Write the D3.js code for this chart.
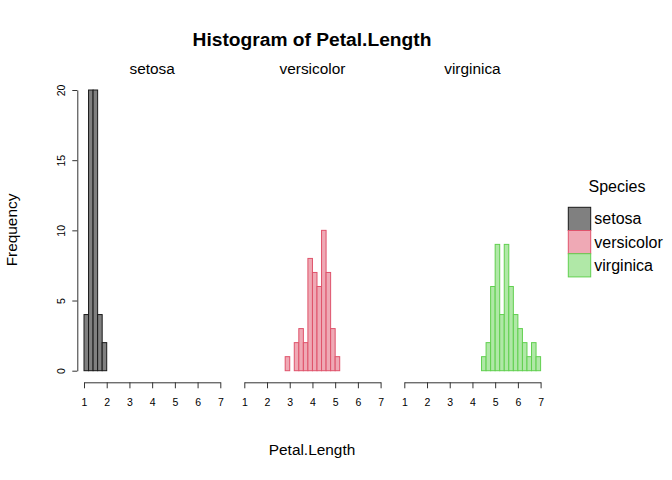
<!DOCTYPE html>
<html><head><meta charset="utf-8">
<script src="https://cdn.jsdelivr.net/npm/d3@7"></script>
<style>body{margin:0;background:#fff}svg{display:block}text{font-family:"Liberation Sans",Arial,sans-serif;fill:#000}</style>
</head><body><svg id="c" width="672" height="480"></svg>
<script>
const species = ["setosa","versicolor","virginica"];
const setosaEdges = [1.0,1.2,1.4,1.6,1.8];
const setosaCounts = [4,20,20,4,2];
const versicolorEdges = [2.8,3.0,3.2,3.4,3.6,3.8,4.0,4.2,4.4,4.6,4.8,5.0];
const versicolorCounts = [1,0,2,3,2,8,7,6,10,7,3,1];
const virginicaEdges = [4.4,4.6,4.8,5.0,5.2,5.4,5.6,5.8,6.0,6.2,6.4,6.6,6.8];
const virginicaCounts = [1,2,6,9,4,9,6,4,3,2,1,2,1];
const binWidth = 0.2;
const xTicks = [1,2,3,4,5,6,7];
const yTicks = [0,5,10,15,20];
const fills = ["#808080","#EFA9B5","#B0E8A7"];
const strokes = ["#1a1a1a","#DF536B","#61D04F"];

const series = [
  {edges: setosaEdges, counts: setosaCounts},
  {edges: versicolorEdges, counts: versicolorCounts},
  {edges: virginicaEdges, counts: virginicaCounts}
];

const svg = d3.select("#c");
const panelX0 = [84, 244.3, 404.3];
const panelW = 136.3;
const y = d3.scaleLinear().domain([0,20]).range([370.7, 90]);
const axisY = 382.3;

svg.append("text").attr("x",312).attr("y",46).attr("text-anchor","middle")
  .style("font-size","19.2px").style("font-weight","bold").text("Histogram of Petal.Length");

series.forEach((s,i)=>{
  const x = d3.scaleLinear().domain([1,7]).range([panelX0[i], panelX0[i]+panelW]);
  const g = svg.append("g");
  g.append("text").attr("x",(x(1)+x(7))/2).attr("y",74.3).attr("text-anchor","middle")
    .style("font-size","15.4px").text(species[i]);
  const data = s.edges.map((e,j)=>({x0:e, c:s.counts[j]})).filter(d=>d.c>0);
  g.selectAll("rect").data(data).enter().append("rect")
    .attr("x",d=>x(d.x0)).attr("width",d=>x(d.x0+binWidth)-x(d.x0))
    .attr("y",d=>y(d.c)).attr("height",d=>y(0)-y(d.c))
    .attr("fill",fills[i]).attr("stroke",strokes[i]).attr("stroke-width",1);
  const ax = g.append("g").attr("transform",`translate(0,${axisY})`)
    .call(d3.axisBottom(x).tickValues(xTicks).tickSize(6).tickSizeOuter(0).tickPadding(10).tickFormat(d3.format("d")));
  ax.select(".domain").attr("stroke","#333");
  ax.selectAll(".tick line").attr("stroke","#333");
  ax.selectAll(".tick text").style("font-size","10.5px").style("font-family","Liberation Sans, Arial, sans-serif").attr("fill","#000");
});

// y axis
const yax = svg.append("g").attr("transform","translate(77.3,0)")
  .call(d3.axisLeft(y).tickValues(yTicks).tickSize(5).tickSizeOuter(0).tickFormat(d3.format("d")));
yax.select(".domain").attr("stroke","#333");
yax.selectAll(".tick line").attr("stroke","#333");
yax.selectAll(".tick text").attr("x",null).attr("dy",null).attr("text-anchor","middle")
  .attr("transform","translate(-12,0) rotate(-90)")
  .style("font-size","10.5px").style("font-family","Liberation Sans, Arial, sans-serif").attr("fill","#000");

svg.append("text").attr("transform","translate(16.5,230) rotate(-90)").attr("text-anchor","middle")
  .style("font-size","15.4px").text("Frequency");
svg.append("text").attr("x",312).attr("y",455).attr("text-anchor","middle")
  .style("font-size","15.4px").text("Petal.Length");

// legend
const lg = svg.append("g");
lg.append("text").attr("x",617).attr("y",186.7).attr("dominant-baseline","central").attr("text-anchor","middle")
  .style("font-size","16px").text("Species");
const boxY = [207.3, 230.5, 253.7];
species.forEach((sp,i)=>{
  lg.append("rect").attr("x",568.3).attr("y",boxY[i]).attr("width",22.4).attr("height",23.2)
    .attr("fill",fills[i]).attr("stroke",strokes[i]).attr("stroke-width",1);
  lg.append("text").attr("x",594.3).attr("y",boxY[i]+11.6).attr("dominant-baseline","central")
    .style("font-size","16px").text(sp);
});
</script></body></html>
